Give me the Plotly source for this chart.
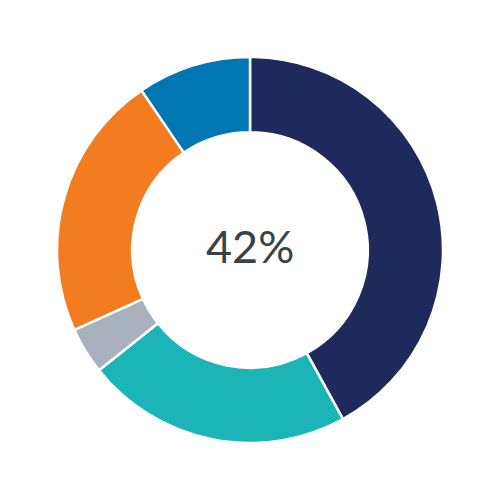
import plotly.graph_objects as go

# slices, clockwise from 12 o'clock
segments = ["Navy", "Teal", "Gray", "Orange", "Blue"]
shares = [42, 22.3, 3.9, 22.3, 9.5]
colors = ["#1d2a5b", "#1bb4b7", "#a8b1bd", "#f47c20", "#0076b3"]
center_label = "42%"

fig = go.Figure(go.Pie(
    labels=segments,
    values=shares,
    hole=0.61,
    sort=False,
    direction="clockwise",
    rotation=0,
    textinfo="none",
    marker=dict(colors=colors, line=dict(color="white", width=2.5)),
    showlegend=False,
))

fig.add_annotation(text=center_label, x=0.5, y=0.5, xref="paper", yref="paper",
                   showarrow=False, yshift=4,
                   font=dict(family="Lato", size=45, color="#3a4147"))

# page body has an 8px margin, so shift the plot up/left
fig.update_layout(
    width=500, height=500,
    margin=dict(l=49, r=65, t=49, b=65),
    paper_bgcolor="white",
    plot_bgcolor="white",
)

fig.write_html("out.html")
